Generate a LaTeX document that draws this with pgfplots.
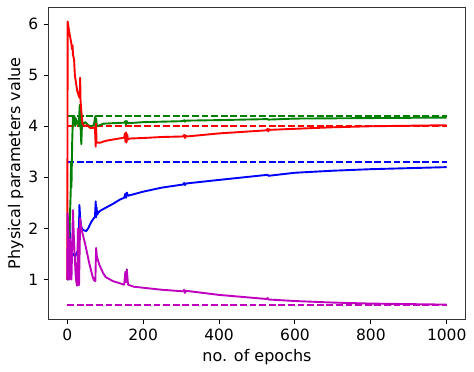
\documentclass[border=0pt]{standalone}
\usepackage{pgfplots}
\pgfplotsset{compat=1.18}
\usetikzlibrary{calc}
\usepackage{fontspec}
\setmainfont{DejaVu Sans}
\definecolor{mplgreen}{rgb}{0,0.5,0}
\definecolor{mplmag}{rgb}{0.75,0,0.75}
\begin{document}
\fontsize{16bp}{19bp}\selectfont
\begin{tikzpicture}
\begin{axis}[
  scale only axis,
  width=417.4bp, height=312bp,
  xmin=-50, xmax=1050, ymin=0.2225, ymax=6.3275,
  xtick={0,200,400,600,800,1000},
  ytick={1,2,3,4,5,6},
  tick align=outside,
  major tick length=4.5bp,
  tick style={line width=1bp, color=black},
  axis line style={line width=1bp, color=black!80},
  xtick pos=bottom, ytick pos=left,
  /pgf/number format/assume math mode=true,
  /pgf/number format/1000 sep={},
  tick label style={font=\fontsize{15.5bp}{18bp}\selectfont},
  label style={font=\fontsize{16bp}{19bp}\selectfont},
  xlabel={no. of epochs},
  ylabel={Physical parameters value},
  xlabel style={yshift=3bp},
  ylabel style={yshift=-6bp},
  every axis plot/.append style={line width=1.9bp, line join=round},
]
% dashed targets
\addplot[mplgreen, dash pattern=on 6.7bp off 2.9bp] coordinates {(0,4.2) (1000,4.2)};
\addplot[red, dash pattern=on 6.7bp off 2.9bp] coordinates {(0,4.0) (1000,4.0)};
\addplot[blue, dash pattern=on 6.7bp off 2.9bp] coordinates {(0,3.3) (1000,3.3)};
\addplot[mplmag, dash pattern=on 6.7bp off 2.9bp] coordinates {(0,0.5) (1000,0.5)};
% blue
\addplot[blue] coordinates {
(0,1.0) (2,1.0) (4,1.3) (6,2.1) (8,1.6) (10,1.4) (14,1.5) (17,1.5) (20,1.45) (24,1.5) (27,1.55) (30,1.6) (32,2.46) (34,2.2) (36,2.05) (40,1.98) (45,1.96) (50,1.95) (55,2.0) (60,2.08) (65,2.15) (70,2.2) (73,2.23) (75,2.53) (76,2.22) (77,2.42) (79,2.27) (84,2.33) (90,2.36) (100,2.4) (120,2.48) (140,2.57) (150,2.6) (153,2.68) (155,2.6) (157,2.7) (160,2.64) (200,2.72) (250,2.8) (305,2.86) (308,2.89) (310,2.85) (313,2.88) (400,2.95) (528,3.05) (530,3.03) (600,3.09) (700,3.13) (800,3.16) (900,3.18) (1000,3.2)
};
% green
\addplot[mplgreen] coordinates {
(0,1.0) (3,1.2) (6,2.0) (9,2.7) (10,3.3) (11,2.8) (13,3.7) (15,4.2) (17,4.05) (19,4.2) (21,4.0) (23,4.15) (25,4.05) (28,4.1) (30,4.0) (33,4.42) (35,4.0) (37,3.65) (39,4.1) (42,4.05) (48,4.08) (55,4.02) (62,4.0) (70,4.02) (74,4.2) (75,3.85) (76,4.15) (78,4.0) (85,4.02) (95,4.05) (120,4.06) (150,4.07) (153,4.1) (155,4.03) (157,4.1) (160,4.06) (200,4.08) (305,4.1) (308,4.12) (310,4.09) (313,4.11) (400,4.12) (528,4.14) (530,4.13) (600,4.15) (800,4.16) (1000,4.17)
};
% red
\addplot[red] coordinates {
(0,1.0) (1,6.05) (5,5.85) (10,5.65) (13,5.5) (14,5.58) (15,5.4) (18,5.3) (20,5.0) (23,4.85) (26,4.7) (30,4.6) (33,4.55) (34,4.95) (35,4.5) (37,4.3) (40,4.05) (45,4.0) (50,4.02) (55,4.0) (60,3.97) (65,3.96) (70,3.98) (73,3.95) (75,3.6) (76,4.05) (77,3.68) (80,3.68) (88,3.68) (95,3.7) (105,3.72) (120,3.74) (145,3.77) (150,3.78) (152,3.86) (153,3.7) (155,3.88) (156,3.68) (158,3.84) (160,3.74) (165,3.76) (200,3.77) (250,3.79) (305,3.8) (308,3.83) (310,3.77) (312,3.82) (315,3.8) (400,3.86) (525,3.92) (528,3.95) (530,3.9) (532,3.94) (535,3.93) (600,3.95) (700,3.98) (800,4.0) (900,4.01) (1000,4.02)
};
% magenta
\addplot[mplmag] coordinates {
(0,1.0) (1,2.3) (3,1.9) (5,1.0) (7,1.8) (9,1.5) (11,1.0) (15,2.36) (17,1.9) (20,1.4) (22,1.1) (24,0.95) (26,0.88) (28,2.0) (30,1.8) (31,0.89) (34,2.2) (37,2.0) (42,1.85) (48,1.67) (57,1.35) (66,1.08) (70,0.99) (74,0.97) (76,1.62) (78,1.45) (85,1.28) (95,1.12) (101,1.05) (120,0.97) (150,0.9) (153,1.15) (155,0.95) (157,1.2) (160,0.9) (175,0.86) (200,0.84) (250,0.8) (305,0.77) (308,0.8) (310,0.74) (313,0.78) (400,0.7) (525,0.62) (528,0.64) (530,0.61) (600,0.58) (700,0.55) (800,0.53) (900,0.52) (1000,0.51)
};
\end{axis}
\pgfresetboundingbox
\path[use as bounding box] ($(current axis.south west)+(-48.3bp,-52.7bp)$) rectangle ($(current axis.north east)+(8.3bp,7.3bp)$);
\end{tikzpicture}
\end{document}
